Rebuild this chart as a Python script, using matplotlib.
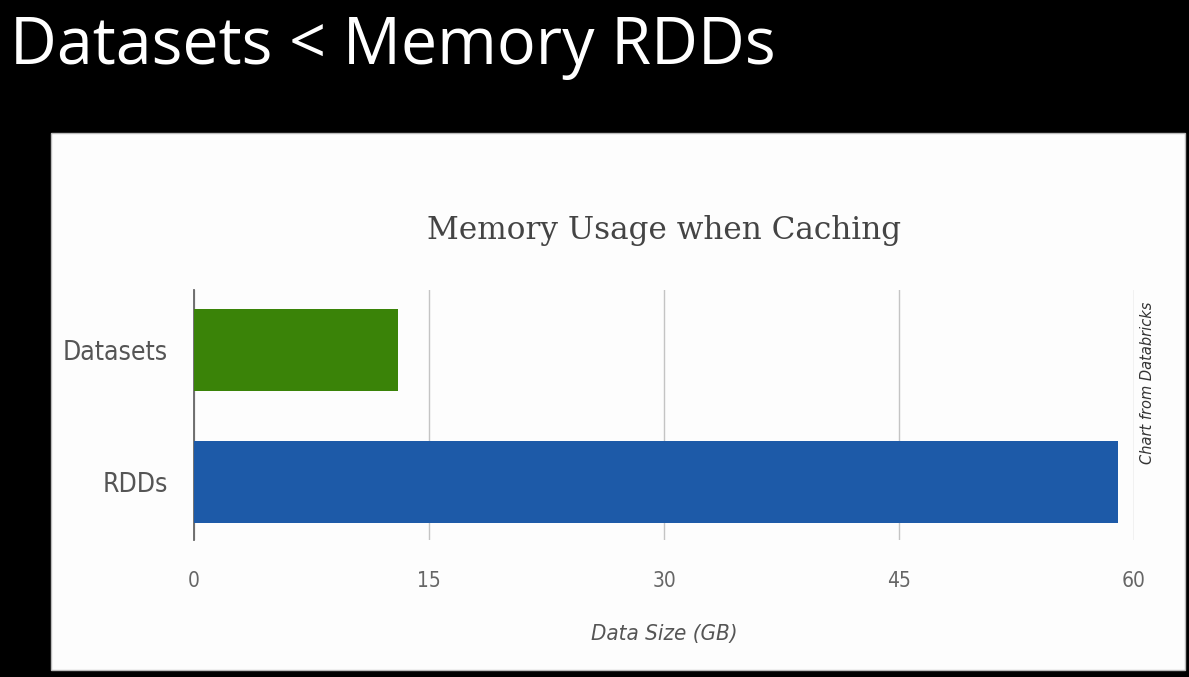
import matplotlib
matplotlib.use("Agg")
import matplotlib.pyplot as plt
from matplotlib.patches import Rectangle

categories = ["RDDs", "Datasets"]
values = [59, 13]
colors = ["#1d5aa8", "#3a8308"]
xticks = [0, 15, 30, 45, 60]

fig = plt.figure(figsize=(11.89, 6.77), dpi=100)
fig.patch.set_facecolor("black")

# white panel as background axes
bg = fig.add_axes([0, 0, 1, 1], zorder=-5)
bg.set_xlim(0, 1189)
bg.set_ylim(677, 0)
bg.axis("off")
bg.add_patch(Rectangle((51, 133), 1185 - 51, 670 - 133, facecolor="#fdfdfd",
                       edgecolor="#bbbbbb", lw=1))

fig.text(10/1189, 1-47/677, "Datasets < Memory RDDs", color="white",
         fontsize=46.5, family="Open Sans", va="center", ha="left")

narrow = dict(family="DejaVu Sans", fontstretch="condensed")

ax = fig.add_axes([194/1189, 1-540/677, (1134-194)/1189, 250/677])
ax.set_facecolor("none")
ypos = list(range(len(categories)))
ax.barh(ypos, values, height=0.62, color=colors, zorder=3)
ax.set_xlim(0, 60)
ax.set_ylim(-0.439, 1.4545)
ax.set_yticks(ypos)
ax.set_yticklabels(categories, fontsize=19, color="#555555", **narrow)
ax.set_xticks(xticks)
ax.set_xticklabels([str(t) for t in xticks], fontsize=15, color="#666666", **narrow)
ax.tick_params(length=0, pad=19, axis="y")
ax.tick_params(axis="x", length=0, pad=22)
for s in ["top", "right", "bottom"]:
    ax.spines[s].set_visible(False)
ax.spines["left"].set_color("#666666")
ax.spines["left"].set_linewidth(1.3)
ax.grid(axis="x", color="#c4c4c4", lw=1, zorder=0)
ax.set_xlabel("Data Size (GB)", fontsize=16, color="#555555", style="italic",
              labelpad=24, **narrow)

fig.text(664/1189, 1-230/677, "Memory Usage when Caching", fontsize=22.4,
         color="#444444", family="DejaVu Serif", ha="center", va="center")

fig.text(1148/1189, 1-383/677, "Chart from Databricks", rotation=90, fontsize=10.5,
         color="#333333", style="italic", ha="center", va="center")

fig.savefig("out.png", dpi=100, facecolor=fig.get_facecolor())
